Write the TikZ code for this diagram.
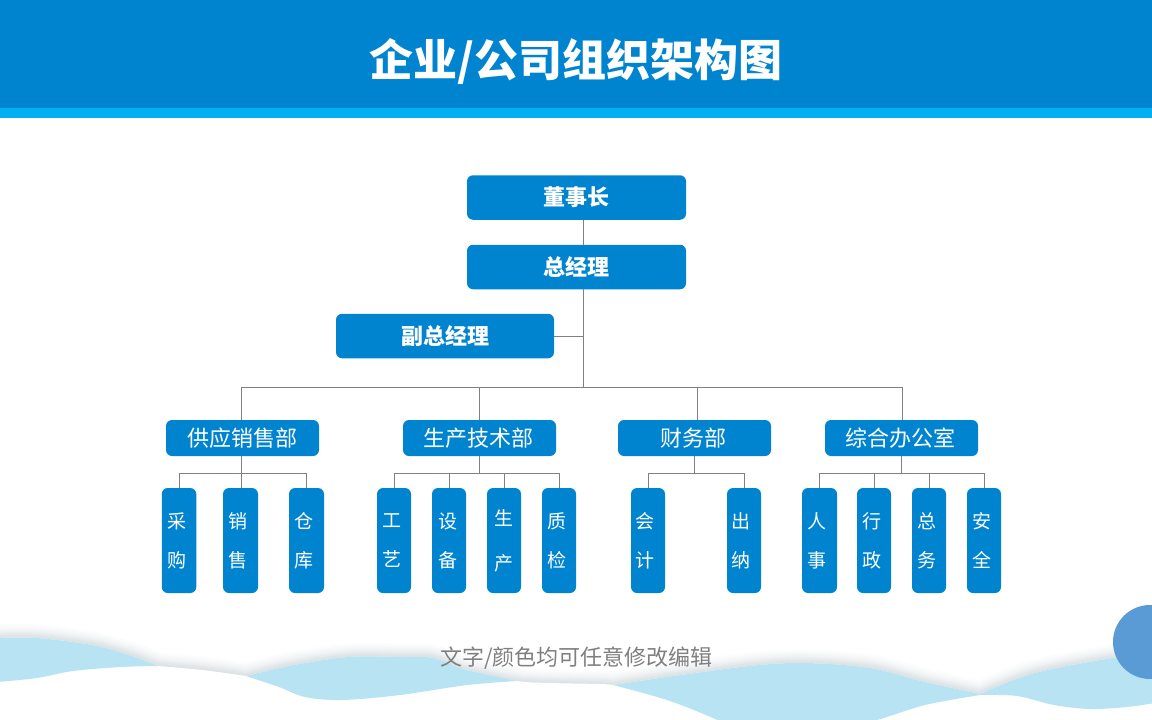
\documentclass[tikz,border=0pt]{standalone}
\usepackage{fontspec}
\setmainfont{Noto Sans CJK SC}
\definecolor{mainblue}{HTML}{0084D0}
\definecolor{stripblue}{HTML}{00B0F0}
\definecolor{waveblue}{HTML}{B7E3F3}
\definecolor{linegray}{HTML}{808080}
\definecolor{circleblue}{HTML}{5B9BD5}
\definecolor{notegray}{HTML}{7F7F7F}
\definecolor{shadowgray}{HTML}{6F8490}
\newcommand{\dn}[1]{\raisebox{-1.2pt}{#1}}
\tikzset{
  boxbase/.style={fill=mainblue,text=white,rounded corners=6pt,inner sep=0pt,anchor=center},
  topbox/.style={boxbase,minimum width=219pt,minimum height=44.5pt,font=\fontsize{22}{26}\selectfont\bfseries},
  deptbox/.style={boxbase,minimum width=153pt,minimum height=36pt,font=\fontsize{22}{26}\selectfont},
  leafbox/.style={boxbase,minimum width=#1,minimum height=105pt},
  leaftext/.style={text=white,align=center,inner sep=0pt,font=\fontsize{19}{39}\selectfont},
  conn/.style={draw=linegray,line width=1pt},
}
\newcommand{\upperedge}{plot[smooth,tension=.55] coordinates {(-3,638) (37,638) (92,645) (129,655) (158,666)}
  -- plot[smooth,tension=.55] coordinates {(158,666) (202,670) (246,676)}
  -- plot[smooth,tension=.55] coordinates {(246,676) (294,665) (349,657) (404,657) (433,658) (467,670) (517,681) (550,683) (600,684) (613,685)}
  -- plot[smooth,tension=.55] coordinates {(613,685) (667,677) (750,666) (804,663) (870,668) (925,682) (980,694)}
  -- plot[smooth,tension=.55] coordinates {(980,694) (1035,673) (1112,658) (1155,652)}}
\begin{document}
\begin{tikzpicture}[x=1pt,y=-1pt]
\useasboundingbox (0,0) rectangle (1152,720);
% header
\fill[mainblue] (0,0) rectangle (1152,108);
\fill[stripblue] (0,108) rectangle (1152,118);
\node[text=white,inner sep=0pt,font=\fontsize{44}{50}\selectfont\bfseries] (title) at (576,61.5) {企业/公司组织架构图};
% waves
\foreach \w in {2,4,6,8,10,12,15,18,22,27}{
  \draw[shadowgray,opacity=.028,line width=\w pt,line join=round] \upperedge;
}
\fill[white] \upperedge -- (1155,723) -- (-3,723) -- cycle;
\fill[waveblue] plot[smooth,tension=.55] coordinates {(-3,638) (37,638) (92,645) (129,655) (158,666)}
  -- plot[smooth,tension=.55] coordinates {(158,666) (121,667) (73,671) (37,678) (-3,682)} -- cycle;
\fill[waveblue] plot[smooth,tension=.55] coordinates {(246,676) (294,665) (349,657) (404,657) (433,658) (467,670) (517,681)}
  -- plot[smooth,tension=.55] coordinates {(517,681) (467,685) (400,695) (342,700) (305,697) (279,687) (246,676)} -- cycle;
\fill[waveblue] plot[smooth,tension=.55] coordinates {(613,685) (667,677) (750,666) (804,663) (870,668) (925,682) (980,694)}
  -- plot[smooth,tension=.55] coordinates {(980,694) (1035,673) (1112,658) (1155,652)}
  -- plot[smooth,tension=.55] coordinates {(1155,703) (1127,707) (1090,709) (1054,705) (1017,696) (980,695)}
  -- plot[smooth,tension=.55] coordinates {(980,695) (925,705) (877,720) (845,725)}
  -- plot[smooth,tension=.55] coordinates {(725,725) (713,718) (667,700) (613,685)} -- cycle;
\fill[circleblue] (1150,642) circle[radius=37];
\node[text=notegray,inner sep=0pt,font=\fontsize{22}{26}\selectfont] (note) at (576.5,658) {文字/颜色均可任意修改编辑};
% junctions
\coordinate (trunk) at (583.5,387);
\coordinate (hleft) at (241.5,387);
\coordinate (hright) at (902.5,387);
% boxes
\node[topbox] (ceo) at (576.5,197.5) {\dn{董事长}};
\node[topbox] (gm) at (576.5,267) {\dn{总经理}};
\node[topbox,minimum width=218pt] (vp) at (445,336) {\dn{副总经理}};
\node[deptbox] (d1) at (242.5,438) {\dn{供应销售部}};
\node[deptbox] (d2) at (479.5,438) {\dn{\hspace*{-2pt}生产技术部}};
\node[deptbox] (d3) at (694.5,438) {\dn{\hspace*{-2pt}财务部}};
\node[deptbox] (d4) at (901.5,438) {\dn{\hspace*{-2pt}综合办公室}};
\newcommand{\leaf}[6]{\node[leafbox=#3 pt,label={[leaftext,xshift=#4 pt]center:#5\\#6}] (#1) at (#2,540.5) {};}
\leaf{a1}{179}{34.5}{-2}{采}{购}
\leaf{a2}{240.5}{35}{-2.5}{销}{售}
\leaf{a3}{306.5}{35}{-2.5}{仓}{库}
\leaf{b1}{394}{34}{-2}{工}{艺}
\leaf{b2}{449}{34}{-1}{设}{备}
\node[leafbox=34pt,label={[leaftext,font=\fontsize{19}{45}\selectfont]center:生\\产}] (b3) at (504,540.5) {};
\leaf{b4}{559}{34}{-2}{质}{检}
\leaf{c1}{648}{34}{-3}{会}{计}
\leaf{c2}{744}{34}{-3}{出}{纳}
\leaf{e1}{819.5}{35}{-2.5}{人}{事}
\leaf{e2}{874}{34}{-2}{行}{政}
\leaf{e3}{929}{34}{-2}{总}{务}
\leaf{e4}{984}{34}{-2}{安}{全}
% connectors
\draw[conn] (ceo.south -| trunk) -- (gm.north -| trunk);
\draw[conn] (gm.south -| trunk) -- (trunk);
\draw[conn] (vp.east) -- (vp.east -| trunk);
\draw[conn] (hleft) -- (hright);
\draw[conn] (hleft) -- (d1.north -| hleft);
\draw[conn] (d2.north |- trunk) -- (d2.north);
\draw[conn] (697,387) -- (697,420);
\draw[conn] (hright) -- (d4.north -| hright);
\draw[conn] (d1.south -| hleft) |- (a1.north |- 0,473) -- (a1.north);
\draw[conn] (d1.south -| hleft) |- (a3.north |- 0,473) -- (a3.north);
\draw[conn] (a2.north -| hleft) -- (0,473 -| hleft);
\draw[conn] (d2.south) |- (b1.north |- 0,473) -- (b1.north);
\draw[conn] (d2.south) |- (b4.north |- 0,473) -- (b4.north);
\draw[conn] (b2.north) -- (b2.north |- 0,473);
\draw[conn] (b3.north) -- (b3.north |- 0,473);
\draw[conn] (d3.south) |- (c1.north |- 0,473) -- (c1.north);
\draw[conn] (d3.south) |- (c2.north |- 0,473) -- (c2.north);
\draw[conn] (d4.south) |- (e1.north |- 0,473) -- (e1.north);
\draw[conn] (d4.south) |- (e4.north |- 0,473) -- (e4.north);
\draw[conn] (e2.north) -- (e2.north |- 0,473);
\draw[conn] (e3.north) -- (e3.north |- 0,473);
\end{tikzpicture}
\end{document}
